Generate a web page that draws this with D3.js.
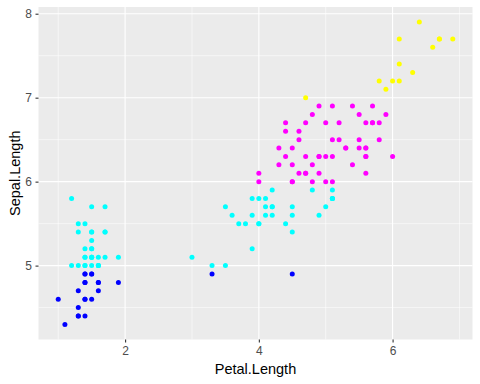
<!DOCTYPE html>
<html><head><meta charset="utf-8">
<script src="https://cdn.jsdelivr.net/npm/d3@7"></script>
<style>body{margin:0;background:#fff}svg{display:block}</style>
</head><body><svg id="c" width="480" height="384"></svg>
<script>
const petalLength = [1.4,1.4,1.3,1.5,1.4,1.7,1.4,1.5,1.4,1.5,1.5,1.6,1.4,1.1,1.2,1.5,1.3,1.4,1.7,1.5,1.7,1.5,1.0,1.7,1.9,1.6,1.6,1.5,1.4,1.6,1.6,1.5,1.5,1.4,1.5,1.2,1.3,1.4,1.3,1.5,1.3,1.3,1.3,1.6,1.9,1.4,1.6,1.4,1.5,1.4,
4.7,4.5,4.9,4.0,4.6,4.5,4.7,3.3,4.6,3.9,3.5,4.2,4.0,4.7,3.6,4.4,4.5,4.1,4.5,3.9,4.8,4.0,4.9,4.7,4.3,4.4,4.8,5.0,4.5,3.5,3.8,3.7,3.9,5.1,4.5,4.5,4.7,4.4,4.1,4.0,4.4,4.6,4.0,3.3,4.2,4.2,4.2,4.3,3.0,4.1,
6.0,5.1,5.9,5.6,5.8,6.6,4.5,6.3,5.8,6.1,5.1,5.3,5.5,5.0,5.1,5.3,5.5,6.7,6.9,5.0,5.7,4.9,6.7,4.9,5.7,6.0,4.8,4.9,5.6,5.8,6.1,6.4,5.6,5.1,5.6,6.1,5.6,5.5,4.8,5.4,5.6,5.1,5.1,5.9,5.7,5.2,5.0,5.2,5.4,5.1];
const sepalLength = [5.1,4.9,4.7,4.6,5.0,5.4,4.6,5.0,4.4,4.9,5.4,4.8,4.8,4.3,5.8,5.7,5.4,5.1,5.7,5.1,5.4,5.1,4.6,5.1,4.8,5.0,5.0,5.2,5.2,4.7,4.8,5.4,5.2,5.5,4.9,5.0,5.5,4.9,4.4,5.1,5.0,4.5,4.4,5.0,5.1,4.8,5.1,4.6,5.3,5.0,
7.0,6.4,6.9,5.5,6.5,5.7,6.3,4.9,6.6,5.2,5.0,5.9,6.0,6.1,5.6,6.7,5.6,5.8,6.2,5.6,5.9,6.1,6.3,6.1,6.4,6.6,6.8,6.7,6.0,5.7,5.5,5.5,5.8,6.0,5.4,6.0,6.7,6.3,5.6,5.5,5.5,6.1,5.8,5.0,5.6,5.7,5.7,6.2,5.1,5.7,
6.3,5.8,7.1,6.3,6.5,7.6,4.9,7.3,6.7,7.2,6.5,6.4,6.8,5.7,5.8,6.4,6.5,7.7,7.7,6.0,6.9,5.6,7.7,6.3,6.7,7.2,6.2,6.1,6.4,7.2,7.4,7.9,6.4,6.3,6.1,7.7,6.3,6.4,6.0,6.9,6.7,6.9,5.8,6.8,6.7,6.7,6.3,6.5,6.2,5.9];
const colorBreaks = [5, 6, 7];
const colorValues = ["#0000FF", "#00FFFF", "#FF00FF", "#FFFF00"];
const xTicks = [2, 4, 6];
const yTicks = [5, 6, 7, 8];
const xTitle = "Petal.Length", yTitle = "Sepal.Length";

const svg = d3.select("#c");
const L = 38.5, R = 472.5, T = 7, B = 339.5;
const xmin = d3.min(petalLength), xmax = d3.max(petalLength);
const ymin = d3.min(sepalLength), ymax = d3.max(sepalLength);
const xe = (xmax - xmin) * 0.05, ye = (ymax - ymin) * 0.05;
const x = d3.scaleLinear().domain([xmin - xe, xmax + xe]).range([L, R]);
const y = d3.scaleLinear().domain([ymin - ye, ymax + ye]).range([B, T]);
const col = d3.scaleThreshold().domain(colorBreaks).range(colorValues);

svg.append("rect").attr("x", L).attr("y", T).attr("width", R - L).attr("height", B - T).attr("fill", "#EBEBEB");
const xMinor = [1, 3, 5, 7], yMinor = [4.5, 5.5, 6.5, 7.5];
const g = svg.append("g");
xMinor.forEach(v => g.append("line").attr("x1", x(v)).attr("x2", x(v)).attr("y1", T).attr("y2", B).attr("stroke", "#fff").attr("stroke-width", 0.55));
yMinor.forEach(v => g.append("line").attr("y1", y(v)).attr("y2", y(v)).attr("x1", L).attr("x2", R).attr("stroke", "#fff").attr("stroke-width", 0.55));
xTicks.forEach(v => g.append("line").attr("x1", x(v)).attr("x2", x(v)).attr("y1", T).attr("y2", B).attr("stroke", "#fff").attr("stroke-width", 1.1));
yTicks.forEach(v => g.append("line").attr("y1", y(v)).attr("y2", y(v)).attr("x1", L).attr("x2", R).attr("stroke", "#fff").attr("stroke-width", 1.1));

svg.append("g").selectAll("circle").data(petalLength.map((p, i) => [p, sepalLength[i]]))
  .join("circle").attr("cx", d => x(d[0])).attr("cy", d => y(d[1])).attr("r", 2.5)
  .attr("fill", d => col(d[1]));

const xa = svg.append("g").attr("transform", `translate(0,${B})`)
  .call(d3.axisBottom(x).tickValues(xTicks).tickSize(3).tickPadding(3.5).tickFormat(d3.format("d")));
const ya = svg.append("g").attr("transform", `translate(${L},0)`)
  .call(d3.axisLeft(y).tickValues(yTicks).tickSize(3).tickPadding(3.5).tickFormat(d3.format("d")));
[xa, ya].forEach(a => {
  a.select(".domain").remove();
  a.selectAll(".tick line").attr("stroke", "#333333").attr("stroke-width", 1.1);
  a.selectAll(".tick text").attr("fill", "#4D4D4D").style("font-family", "Liberation Sans, Arial, sans-serif").style("font-size", "12px");
});
svg.append("text").attr("x", (L + R) / 2).attr("y", 374).attr("text-anchor", "middle")
  .style("font-family", "Liberation Sans, Arial, sans-serif").style("font-size", "14.5px").attr("fill", "#000").text(xTitle);
svg.append("text").attr("transform", `translate(20,${(T + B) / 2}) rotate(-90)`).attr("text-anchor", "middle")
  .style("font-family", "Liberation Sans, Arial, sans-serif").style("font-size", "14.5px").attr("fill", "#000").text(yTitle);
</script></body></html>
